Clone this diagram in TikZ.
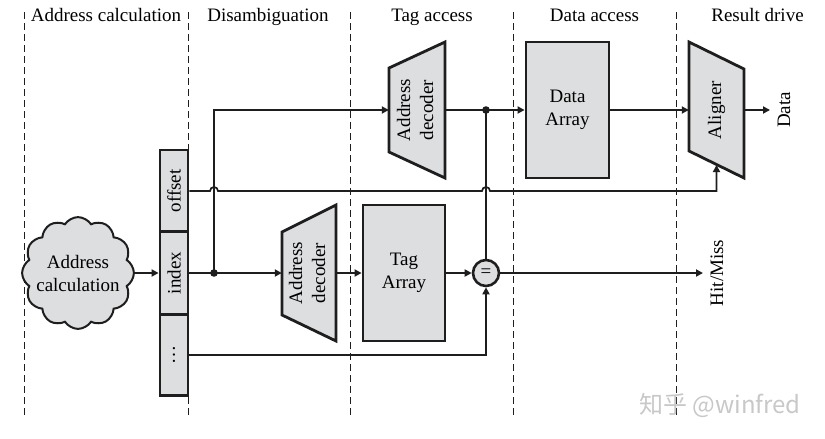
\documentclass[tikz,border=0pt]{standalone}
\usepackage{fontspec}
\setmainfont{Liberation Serif}
\newfontfamily\cjkfont{Noto Sans CJK SC}
\usepackage{graphicx}
\usepackage{tikz}
\usetikzlibrary{shapes.symbols, arrows.meta, positioning, calc}
\definecolor{pipeInk}{HTML}{1E1E1E}
\definecolor{pipeFill}{HTML}{DDDEE0}
\definecolor{pipeMark}{HTML}{C8C8C8}
\newcommand{\vlabel}[1]{\rotatebox{90}{\begin{tabular}{@{}c@{}}#1\end{tabular}}}
\tikzset{
  pipebox/.style={rectangle, draw=pipeInk, line width=2.8pt, fill=pipeFill,
                  inner sep=0pt, align=center},
  pipeshape/.style={draw=pipeInk, line width=2.8pt, fill=pipeFill, line join=miter},
  pipeflow/.style={-{Triangle[length=7pt, width=7pt]}, line width=2.6pt, color=pipeInk},
  pipewire/.style={line width=2.6pt, color=pipeInk},
  stagesep/.style={dash pattern=on 7pt off 4pt, line width=0.9pt, color=pipeInk},
}

\begin{document}
\begin{tikzpicture}[x=1pt, y=-1pt, font=\fontsize{19}{23}\selectfont,
  stagelabel/.style={anchor=base, inner sep=0pt},
  holder/.style={inner sep=0pt, minimum height=136pt}]
  \useasboundingbox (0,0) rectangle (825,439);
  % pipeline stages
  \foreach \sx in {24,188,350.5,513.5,676.5}
    \draw[stagesep] (\sx,12) -- (\sx,418);
  \node[stagelabel](hcalc) at (106,21){Address calculation};
  \node[stagelabel](hdis) at (268,21){Disambiguation};
  \node[stagelabel](htag) at (432,21){Tag access};
  \node[stagelabel](hdata) at (594.5,21){Data access};
  \node[stagelabel](hdrive) at (757.5,21){Result drive};
  % blocks
  \node[cloud, cloud puffs=12, cloud puff arc=115, aspect=1, draw=pipeInk, line width=2pt,
        fill=pipeFill, inner xsep=-6pt, inner ysep=0pt,
        align=center](addr) at (78,273){Address\\calculation};
  \node[pipebox, minimum width=28pt, minimum height=82pt](offs) at (174,191){\rotatebox{90}{offset}};
  \node[pipebox, minimum width=28pt, minimum height=83pt](idx) at (174,273){\rotatebox{90}{index}};
  \node[pipebox, minimum width=28pt, minimum height=81pt](rest) at (174,355){\rotatebox{90}{\ldots}};
  \filldraw[pipeshape] (282,232) -- (336,205) -- (336,341) -- (282,315) -- cycle;
  \node[holder, minimum width=54pt](dectag) at (309,273){\vlabel{Address\\decoder}};
  \filldraw[pipeshape] (389,68) -- (445,42) -- (445,178) -- (389,152) -- cycle;
  \node[holder, minimum width=56pt](decdata) at (417,110){\vlabel{Address\\decoder}};
  \filldraw[pipeshape] (689,42) -- (744,69) -- (744,178) -- (689,151) -- cycle;
  \node[holder, minimum width=55pt](aln) at (716.5,110){\vlabel{Aligner}};
  \node[pipebox, minimum width=82pt, minimum height=136pt](tagarr) at (404,273){Tag\\Array};
  \node[pipebox, minimum width=83pt, minimum height=136pt](datarr) at (567.5,110){Data\\Array};
  \node[circle, draw=pipeInk, fill=pipeFill, line width=2.6pt, minimum size=26pt,
        inner sep=0pt](cmp) at (486,273){=};
  \coordinate (jidx) at (214,273);
  \coordinate (jdat) at (486,110);
  \coordinate (alnin) at (716.5,165);
  \coordinate (dout) at (770,110);
  \coordinate (hmout) at (703,273);
  \node[rotate=90, inner sep=0pt](dlab) at (784,110){Data};
  \node[rotate=90, inner sep=0pt](hmlab) at (717,273){Hit/Miss};
  % connectors
  \draw[pipeflow](addr)--(idx);\draw[pipeflow](idx)--(dectag);
  \draw[pipeflow](jidx)|-(decdata);\fill[pipeInk](jidx) circle (3.8pt);
  \draw[pipeflow, line width=1.7pt](offs.east) -- (210,191) arc[start angle=180, end angle=360, radius=4]
    -- (482,191) arc[start angle=180, end angle=360, radius=4] -- (716.5,191) -- (alnin);
  \draw[pipeflow](rest.east) -| (cmp.south);
  \draw[pipeflow](dectag)--(tagarr);\draw[pipeflow](tagarr)--(cmp);
  \draw[pipeflow](decdata)--(datarr);\draw[pipewire](jdat)--(cmp);
  \fill[pipeInk](jdat) circle (3.8pt);
  \draw[pipeflow](datarr)--(aln);\draw[pipeflow](aln)--(dout);
  \draw[pipeflow](cmp)--(hmout);
  \node[text=pipeMark, font=\cjkfont\fontsize{24}{24}\selectfont](mark) at (720,405){知乎 @winfred};
\end{tikzpicture}
\end{document}
